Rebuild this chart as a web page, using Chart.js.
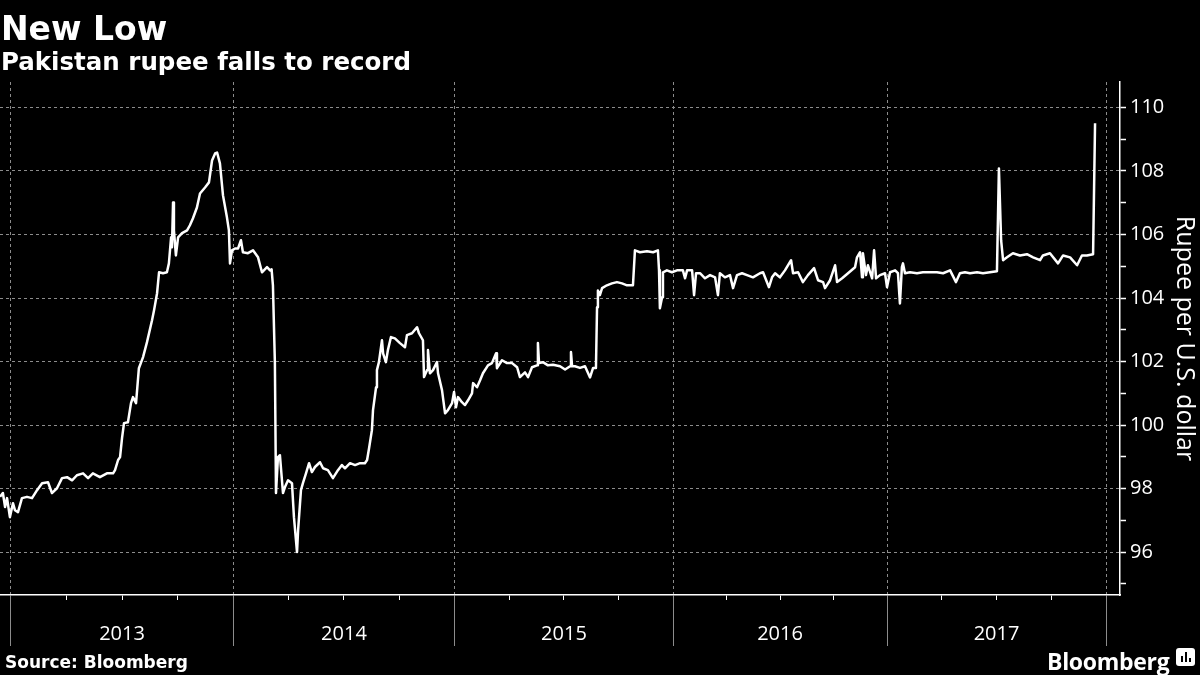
<!DOCTYPE html>
<html>
<head>
<meta charset="utf-8">
<script src="https://cdn.jsdelivr.net/npm/chart.js@4.4.0/dist/chart.umd.min.js"></script>
<style>
  html, body { margin: 0; padding: 0; background: #000; }
  #wrap { position: relative; width: 1200px; height: 675px; background: #000; overflow: hidden; }
  #c { position: absolute; left: 0; top: 0; }
  .txt { position: absolute; color: #fff; white-space: nowrap; line-height: 1; }
  #title { left: 1px; top: 9px; font: bold 33px "DejaVu Sans"; }
  #subtitle { left: 1px; top: 47px; font: bold 24.5px "DejaVu Sans"; }
  #source { left: 5px; top: 652px; font: bold 17px "DejaVu Sans"; }
  #brand { left: 1047px; top: 645px; font: 700 23px "Open Sans"; letter-spacing: -0.3px; }
  #icon { position: absolute; left: 1176px; top: 648px; width: 19px; height: 18px; background: #fff; border-radius: 3px; }
  #icon span { position: absolute; bottom: 4px; width: 2px; background: #000; }
</style>
</head>
<body>
<div id="wrap">
  <canvas id="c" width="1200" height="675"></canvas>
  <div class="txt" id="title">New Low</div>
  <div class="txt" id="subtitle">Pakistan rupee falls to record</div>
  <div class="txt" id="source">Source: Bloomberg</div>
  <div class="txt" id="brand">Bloomberg</div>
  <div id="icon"><span style="left:5px;height:6px"></span><span style="left:9px;height:10px"></span><span style="left:13px;height:4px"></span></div>
</div>
<script>
// Observation times on the chart's time axis (in years) and Pakistan rupee per U.S. dollar
const obsYear = [
  2012.950, 2012.963, 2012.973, 2012.982, 2012.995, 2013.009, 2013.018, 2013.032, 2013.050, 2013.073,
  2013.096, 2013.119, 2013.142, 2013.169, 2013.187, 2013.210, 2013.233, 2013.256, 2013.279, 2013.301,
  2013.329, 2013.352, 2013.374, 2013.406, 2013.438, 2013.466, 2013.475, 2013.489, 2013.498, 2013.507,
  2013.516, 2013.534, 2013.548, 2013.557, 2013.571, 2013.584, 2013.603, 2013.621, 2013.644, 2013.653,
  2013.667, 2013.676, 2013.694, 2013.712, 2013.721, 2013.731, 2013.735, 2013.740, 2013.744, 2013.753,
  2013.763, 2013.781, 2013.804, 2013.817, 2013.831, 2013.849, 2013.863, 2013.886, 2013.904, 2013.918,
  2013.932, 2013.941, 2013.954, 2013.968, 2013.986, 2013.995, 2014.000, 2014.009, 2014.023, 2014.037,
  2014.050, 2014.059, 2014.082, 2014.105, 2014.128, 2014.146, 2014.169, 2014.183, 2014.190, 2014.196,
  2014.205, 2014.210, 2014.219, 2014.228, 2014.242, 2014.251, 2014.265, 2014.283, 2014.292, 2014.306,
  2014.311, 2014.324, 2014.333, 2014.347, 2014.361, 2014.374, 2014.388, 2014.411, 2014.425, 2014.447,
  2014.470, 2014.493, 2014.511, 2014.525, 2014.548, 2014.571, 2014.594, 2014.616, 2014.626, 2014.635,
  2014.648, 2014.653, 2014.667, 2014.671, 2014.680, 2014.694, 2014.699, 2014.712, 2014.721, 2014.735,
  2014.753, 2014.776, 2014.799, 2014.808, 2014.831, 2014.854, 2014.863, 2014.881, 2014.886, 2014.900,
  2014.904, 2014.913, 2014.927, 2014.945, 2014.950, 2014.968, 2014.982, 2014.995, 2015.014, 2015.023,
  2015.032, 2015.041, 2015.059, 2015.073, 2015.087, 2015.105, 2015.110, 2015.128, 2015.142, 2015.155,
  2015.178, 2015.196, 2015.215, 2015.219, 2015.242, 2015.265, 2015.288, 2015.311, 2015.324, 2015.347,
  2015.361, 2015.379, 2015.402, 2015.406, 2015.411, 2015.429, 2015.452, 2015.475, 2015.507, 2015.530,
  2015.553, 2015.557, 2015.562, 2015.575, 2015.598, 2015.621, 2015.644, 2015.658, 2015.671, 2015.676,
  2015.680, 2015.689, 2015.699, 2015.721, 2015.744, 2015.767, 2015.790, 2015.813, 2015.840, 2015.849,
  2015.872, 2015.904, 2015.932, 2015.954, 2015.959, 2015.963, 2015.973, 2015.977, 2015.995, 2016.018,
  2016.041, 2016.068, 2016.078, 2016.087, 2016.110, 2016.119, 2016.128, 2016.146, 2016.169, 2016.192,
  2016.215, 2016.228, 2016.237, 2016.260, 2016.283, 2016.297, 2016.315, 2016.338, 2016.361, 2016.388,
  2016.420, 2016.434, 2016.461, 2016.475, 2016.489, 2016.511, 2016.534, 2016.562, 2016.571, 2016.594,
  2016.616, 2016.639, 2016.667, 2016.685, 2016.708, 2016.717, 2016.740, 2016.763, 2016.772, 2016.795,
  2016.822, 2016.854, 2016.863, 2016.877, 2016.886, 2016.890, 2016.904, 2016.913, 2016.932, 2016.941,
  2016.950, 2016.968, 2016.991, 2017.000, 2017.014, 2017.037, 2017.050, 2017.059, 2017.068, 2017.073,
  2017.082, 2017.105, 2017.137, 2017.164, 2017.196, 2017.228, 2017.256, 2017.288, 2017.315, 2017.333,
  2017.356, 2017.379, 2017.411, 2017.438, 2017.470, 2017.502, 2017.511, 2017.521, 2017.530, 2017.548,
  2017.575, 2017.607, 2017.639, 2017.667, 2017.699, 2017.712, 2017.744, 2017.781, 2017.804, 2017.836,
  2017.868, 2017.890, 2017.913, 2017.941, 2017.950
];
const rupeePerUSD = [
  97.74, 97.86, 97.42, 97.70, 97.10, 97.54, 97.32, 97.26, 97.70, 97.74,
  97.70, 97.95, 98.17, 98.20, 97.86, 98.01, 98.33, 98.36, 98.26, 98.42,
  98.48, 98.33, 98.48, 98.36, 98.48, 98.48, 98.58, 98.90, 98.99, 99.59,
  100.06, 100.09, 100.69, 100.88, 100.69, 101.79, 102.14, 102.61, 103.30, 103.61,
  104.15, 104.81, 104.78, 104.81, 105.09, 105.91, 105.60, 107.01, 106.13, 105.34,
  105.91, 106.04, 106.13, 106.29, 106.51, 106.85, 107.29, 107.48, 107.64, 108.33,
  108.55, 108.58, 108.24, 107.23, 106.54, 106.13, 105.09, 105.50, 105.56, 105.56,
  105.82, 105.44, 105.41, 105.50, 105.28, 104.81, 104.97, 104.87, 104.90, 104.40,
  101.95, 97.86, 98.99, 99.05, 97.86, 98.05, 98.26, 98.17, 97.10, 96.00,
  96.69, 97.95, 98.17, 98.48, 98.80, 98.52, 98.68, 98.83, 98.64, 98.58,
  98.33, 98.58, 98.74, 98.64, 98.80, 98.74, 98.80, 98.80, 98.90, 99.27,
  99.84, 100.47, 101.19, 101.73, 101.98, 102.67, 102.26, 101.98, 102.36, 102.77,
  102.73, 102.58, 102.45, 102.83, 102.89, 103.08, 102.89, 102.67, 101.51, 101.73,
  102.36, 101.63, 101.73, 101.98, 101.63, 101.10, 100.37, 100.47, 100.69, 101.04,
  100.56, 100.88, 100.72, 100.63, 100.78, 101.00, 101.32, 101.19, 101.41, 101.63,
  101.88, 101.95, 102.26, 101.79, 102.04, 101.95, 101.95, 101.82, 101.51, 101.66,
  101.51, 101.82, 101.88, 102.58, 101.95, 101.98, 101.88, 101.90, 101.85, 101.75,
  101.85, 102.30, 101.85, 101.85, 101.80, 101.85, 101.50, 101.80, 101.80, 103.71,
  104.24, 104.09, 104.31, 104.40, 104.46, 104.50, 104.46, 104.40, 104.40, 105.50,
  105.44, 105.47, 105.44, 105.50, 104.87, 103.68, 104.02, 104.81, 104.87, 104.81,
  104.87, 104.87, 104.62, 104.87, 104.87, 104.09, 104.78, 104.78, 104.62, 104.72,
  104.65, 104.09, 104.78, 104.65, 104.72, 104.31, 104.72, 104.78, 104.72, 104.65,
  104.78, 104.81, 104.34, 104.65, 104.78, 104.65, 104.87, 105.19, 104.78, 104.81,
  104.50, 104.72, 104.94, 104.56, 104.50, 104.31, 104.56, 105.03, 104.50, 104.62,
  104.78, 104.97, 105.28, 105.44, 104.65, 105.41, 104.72, 105.03, 104.62, 105.50,
  104.62, 104.72, 104.78, 104.34, 104.81, 104.87, 104.78, 103.83, 104.97, 105.09,
  104.78, 104.81, 104.78, 104.81, 104.81, 104.81, 104.78, 104.87, 104.50, 104.78,
  104.81, 104.78, 104.81, 104.78, 104.81, 104.84, 108.08, 105.82, 105.19, 105.28,
  105.41, 105.34, 105.38, 105.28, 105.19, 105.34, 105.41, 105.09, 105.34, 105.28,
  105.03, 105.34, 105.34, 105.38, 109.50
];
// Axis ticks: year labels and where each year starts on the time axis
const yearLabels = ["2013", "2014", "2015", "2016", "2017"];
const yearStarts = [2013.000, 2014.014, 2015.027, 2016.023, 2017.000, 2018.000];
const yTickValues = [95, 96, 97, 98, 99, 100, 101, 102, 103, 104, 105, 106, 107, 108, 109, 110];
const yLabelValues = [96, 98, 100, 102, 104, 106, 108, 110];

const X_MIN = 2012.9498, X_MAX = 2018.0639;
const Y_MIN = 94.65, Y_MAX = 110.8;
const GRID = '#8c8c8c';
const CLEAR = 'rgba(0,0,0,0)';

// derived tick positions
const yearMids = yearLabels.map((l, i) => (yearStarts[i] + yearStarts[i + 1]) / 2);
const quarterTicks = [];
for (let i = 0; i < yearLabels.length; i++) {
  const a = yearStarts[i], b = yearStarts[i + 1];
  for (let q = 0; q < 4; q++) quarterTicks.push(a + (b - a) * q / 4);
}
quarterTicks.push(yearStarts[yearStarts.length - 1]);
const xMainTicks = yearStarts.concat(yearMids).sort((a, b) => a - b);
const near = (a, b) => Math.abs(a - b) < 1e-6;
const isBoundary = v => yearStarts.some(b => near(b, v));

new Chart(document.getElementById('c'), {
  type: 'line',
  data: {
    datasets: [{
      data: obsYear.map((t, i) => ({ x: t, y: rupeePerUSD[i] })),
      borderColor: '#ffffff',
      borderWidth: 2.5,
      pointRadius: 0,
      tension: 0,
      borderJoinStyle: 'round',
      xAxisID: 'x',
      yAxisID: 'y'
    }]
  },
  options: {
    responsive: false,
    maintainAspectRatio: false,
    animation: false,
    devicePixelRatio: 1,
    layout: { padding: { top: 82, bottom: 25, left: 0, right: 0 } },
    plugins: { legend: { display: false }, tooltip: { enabled: false }, title: { display: false } },
    scales: {
      xq: {
        type: 'linear', position: 'bottom', weight: 0, min: X_MIN, max: X_MAX,
        afterBuildTicks: s => { s.ticks = quarterTicks.map(v => ({ value: v })); },
        afterFit: s => { s.height = 5; },
        grid: {
          drawOnChartArea: false, tickLength: 5, tickWidth: 1,
          tickColor: c => (c.tick && isBoundary(c.tick.value)) ? GRID : '#ffffff'
        },
        border: { display: true, color: '#ffffff', width: 1.5 },
        ticks: { display: false }
      },
      x: {
        type: 'linear', position: 'bottom', weight: 1, min: X_MIN, max: X_MAX,
        afterBuildTicks: s => { s.ticks = xMainTicks.map(v => ({ value: v })); },
        afterFit: s => { s.height = 50; },
        grid: {
          drawOnChartArea: true, lineWidth: 1, tickLength: 46, tickWidth: 1,
          color: c => (c.tick && isBoundary(c.tick.value)) ? GRID : CLEAR,
          tickColor: c => (c.tick && isBoundary(c.tick.value)) ? GRID : CLEAR
        },
        border: { display: false, dash: [3, 3] },
        ticks: {
          autoSkip: false, maxRotation: 0, minRotation: 0, padding: -24,
          color: '#ffffff', font: { family: 'Open Sans', size: 20 },
          callback: v => {
            const idx = yearMids.findIndex(m => near(m, v));
            return idx >= 0 ? yearLabels[idx] : '';
          }
        }
      },
      y: {
        type: 'linear', position: 'right', min: Y_MIN, max: Y_MAX,
        afterBuildTicks: s => { s.ticks = yTickValues.map(v => ({ value: v })); },
        afterFit: s => { s.width = 80; },
        grid: {
          lineWidth: 1, tickLength: 6, tickWidth: 1.5, tickColor: '#ffffff',
          color: c => (c.tick && yLabelValues.includes(c.tick.value)) ? GRID : CLEAR
        },
        border: { display: true, color: '#ffffff', width: 1.5, dash: [3, 3] },
        ticks: {
          padding: 4, color: '#ffffff', font: { family: 'Open Sans', size: 20 },
          callback: v => yLabelValues.includes(v) ? String(v) : ''
        },
        title: {
          display: true, text: 'Rupee per U.S. dollar', color: '#ffffff',
          font: { family: 'Open Sans', size: 25 }, padding: { top: 1, bottom: 0 }
        }
      }
    }
  }
});
</script>
</body>
</html>
